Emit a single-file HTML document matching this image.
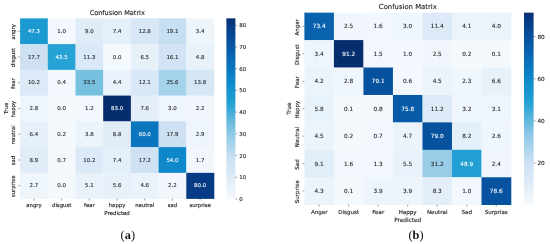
<!DOCTYPE html>
<html><head><meta charset="utf-8"><title>Confusion Matrix</title>
<style>
html,body{margin:0;padding:0;background:#fff;}
svg{display:block}
svg text{font-family:"DejaVu Sans","Liberation Sans",sans-serif;}
svg text.lb{stroke:#262626;stroke-width:0.14px;}
svg text.an{stroke-width:0.1px;}
svg text.lb2{stroke:#262626;stroke-width:3px;}
svg text.cap{font-family:"Liberation Serif","DejaVu Serif",serif;font-weight:bold;}
</style></head><body>
<svg width="550" height="244" viewBox="0 0 550 244" text-rendering="geometricPrecision">
<rect width="550" height="244" fill="#ffffff"/>
<rect x="20.10" y="18.35" width="28.00" height="26.05" fill="#1a9ad1"/>
<rect x="47.80" y="18.35" width="28.00" height="26.05" fill="#f2f8fd"/>
<rect x="75.50" y="18.35" width="28.00" height="26.05" fill="#dfecf8"/>
<rect x="103.20" y="18.35" width="28.00" height="26.05" fill="#e3eff9"/>
<rect x="130.90" y="18.35" width="28.00" height="26.05" fill="#d7e7f6"/>
<rect x="158.60" y="18.35" width="28.00" height="26.05" fill="#c7dff2"/>
<rect x="186.30" y="18.35" width="28.00" height="26.05" fill="#edf5fb"/>
<rect x="20.10" y="44.10" width="28.00" height="26.05" fill="#cde1f3"/>
<rect x="47.80" y="44.10" width="28.00" height="26.05" fill="#26a2d4"/>
<rect x="75.50" y="44.10" width="28.00" height="26.05" fill="#dae9f7"/>
<rect x="103.20" y="44.10" width="28.00" height="26.05" fill="#f4f9fe"/>
<rect x="130.90" y="44.10" width="28.00" height="26.05" fill="#e5f0f9"/>
<rect x="158.60" y="44.10" width="28.00" height="26.05" fill="#d1e3f4"/>
<rect x="186.30" y="44.10" width="28.00" height="26.05" fill="#e9f2fb"/>
<rect x="20.10" y="69.85" width="28.00" height="26.05" fill="#dceaf7"/>
<rect x="47.80" y="69.85" width="28.00" height="26.05" fill="#f3f9fe"/>
<rect x="75.50" y="69.85" width="28.00" height="26.05" fill="#76c0e0"/>
<rect x="103.20" y="69.85" width="28.00" height="26.05" fill="#eaf3fb"/>
<rect x="130.90" y="69.85" width="28.00" height="26.05" fill="#d9e8f6"/>
<rect x="158.60" y="69.85" width="28.00" height="26.05" fill="#a6d3ec"/>
<rect x="186.30" y="69.85" width="28.00" height="26.05" fill="#d5e6f5"/>
<rect x="20.10" y="95.60" width="28.00" height="26.05" fill="#eef6fc"/>
<rect x="47.80" y="95.60" width="28.00" height="26.05" fill="#f4f9fe"/>
<rect x="75.50" y="95.60" width="28.00" height="26.05" fill="#f2f8fd"/>
<rect x="103.20" y="95.60" width="28.00" height="26.05" fill="#062d6e"/>
<rect x="130.90" y="95.60" width="28.00" height="26.05" fill="#e3eef9"/>
<rect x="158.60" y="95.60" width="28.00" height="26.05" fill="#eef5fc"/>
<rect x="186.30" y="95.60" width="28.00" height="26.05" fill="#f0f6fc"/>
<rect x="20.10" y="121.35" width="28.00" height="26.05" fill="#e6f0fa"/>
<rect x="47.80" y="121.35" width="28.00" height="26.05" fill="#f4f9fe"/>
<rect x="75.50" y="121.35" width="28.00" height="26.05" fill="#ecf4fb"/>
<rect x="103.20" y="121.35" width="28.00" height="26.05" fill="#e0ecf8"/>
<rect x="130.90" y="121.35" width="28.00" height="26.05" fill="#0a76be"/>
<rect x="158.60" y="121.35" width="28.00" height="26.05" fill="#cde1f3"/>
<rect x="186.30" y="121.35" width="28.00" height="26.05" fill="#eef5fc"/>
<rect x="20.10" y="147.10" width="28.00" height="26.05" fill="#e0ecf8"/>
<rect x="47.80" y="147.10" width="28.00" height="26.05" fill="#f3f8fd"/>
<rect x="75.50" y="147.10" width="28.00" height="26.05" fill="#dceaf7"/>
<rect x="103.20" y="147.10" width="28.00" height="26.05" fill="#e3eff9"/>
<rect x="130.90" y="147.10" width="28.00" height="26.05" fill="#cee2f3"/>
<rect x="158.60" y="147.10" width="28.00" height="26.05" fill="#0e88ca"/>
<rect x="186.30" y="147.10" width="28.00" height="26.05" fill="#f1f7fd"/>
<rect x="20.10" y="172.85" width="28.00" height="26.05" fill="#eef6fc"/>
<rect x="47.80" y="172.85" width="28.00" height="26.05" fill="#f4f9fe"/>
<rect x="75.50" y="172.85" width="28.00" height="26.05" fill="#e9f2fa"/>
<rect x="103.20" y="172.85" width="28.00" height="26.05" fill="#e8f1fa"/>
<rect x="130.90" y="172.85" width="28.00" height="26.05" fill="#eaf3fb"/>
<rect x="158.60" y="172.85" width="28.00" height="26.05" fill="#f0f6fc"/>
<rect x="186.30" y="172.85" width="28.00" height="26.05" fill="#063a84"/>
<text x="33.95" y="32.79" font-size="5.45" text-anchor="middle" class="an" fill="#ffffff" stroke="#ffffff">47.3</text>
<text x="61.65" y="32.79" font-size="5.45" text-anchor="middle" class="an" fill="#262626" stroke="#262626">1.0</text>
<text x="89.35" y="32.79" font-size="5.45" text-anchor="middle" class="an" fill="#262626" stroke="#262626">9.0</text>
<text x="117.05" y="32.79" font-size="5.45" text-anchor="middle" class="an" fill="#262626" stroke="#262626">7.4</text>
<text x="144.75" y="32.79" font-size="5.45" text-anchor="middle" class="an" fill="#262626" stroke="#262626">12.8</text>
<text x="172.45" y="32.79" font-size="5.45" text-anchor="middle" class="an" fill="#262626" stroke="#262626">19.1</text>
<text x="200.15" y="32.79" font-size="5.45" text-anchor="middle" class="an" fill="#262626" stroke="#262626">3.4</text>
<text x="33.95" y="58.54" font-size="5.45" text-anchor="middle" class="an" fill="#262626" stroke="#262626">17.7</text>
<text x="61.65" y="58.54" font-size="5.45" text-anchor="middle" class="an" fill="#ffffff" stroke="#ffffff">43.5</text>
<text x="89.35" y="58.54" font-size="5.45" text-anchor="middle" class="an" fill="#262626" stroke="#262626">11.3</text>
<text x="117.05" y="58.54" font-size="5.45" text-anchor="middle" class="an" fill="#262626" stroke="#262626">0.0</text>
<text x="144.75" y="58.54" font-size="5.45" text-anchor="middle" class="an" fill="#262626" stroke="#262626">6.5</text>
<text x="172.45" y="58.54" font-size="5.45" text-anchor="middle" class="an" fill="#262626" stroke="#262626">16.1</text>
<text x="200.15" y="58.54" font-size="5.45" text-anchor="middle" class="an" fill="#262626" stroke="#262626">4.8</text>
<text x="33.95" y="84.29" font-size="5.45" text-anchor="middle" class="an" fill="#262626" stroke="#262626">10.2</text>
<text x="61.65" y="84.29" font-size="5.45" text-anchor="middle" class="an" fill="#262626" stroke="#262626">0.4</text>
<text x="89.35" y="84.29" font-size="5.45" text-anchor="middle" class="an" fill="#262626" stroke="#262626">33.5</text>
<text x="117.05" y="84.29" font-size="5.45" text-anchor="middle" class="an" fill="#262626" stroke="#262626">4.4</text>
<text x="144.75" y="84.29" font-size="5.45" text-anchor="middle" class="an" fill="#262626" stroke="#262626">12.1</text>
<text x="172.45" y="84.29" font-size="5.45" text-anchor="middle" class="an" fill="#262626" stroke="#262626">25.6</text>
<text x="200.15" y="84.29" font-size="5.45" text-anchor="middle" class="an" fill="#262626" stroke="#262626">13.8</text>
<text x="33.95" y="110.04" font-size="5.45" text-anchor="middle" class="an" fill="#262626" stroke="#262626">2.8</text>
<text x="61.65" y="110.04" font-size="5.45" text-anchor="middle" class="an" fill="#262626" stroke="#262626">0.0</text>
<text x="89.35" y="110.04" font-size="5.45" text-anchor="middle" class="an" fill="#262626" stroke="#262626">1.2</text>
<text x="117.05" y="110.04" font-size="5.45" text-anchor="middle" class="an" fill="#ffffff" stroke="#ffffff">83.0</text>
<text x="144.75" y="110.04" font-size="5.45" text-anchor="middle" class="an" fill="#262626" stroke="#262626">7.6</text>
<text x="172.45" y="110.04" font-size="5.45" text-anchor="middle" class="an" fill="#262626" stroke="#262626">3.0</text>
<text x="200.15" y="110.04" font-size="5.45" text-anchor="middle" class="an" fill="#262626" stroke="#262626">2.2</text>
<text x="33.95" y="135.79" font-size="5.45" text-anchor="middle" class="an" fill="#262626" stroke="#262626">6.4</text>
<text x="61.65" y="135.79" font-size="5.45" text-anchor="middle" class="an" fill="#262626" stroke="#262626">0.2</text>
<text x="89.35" y="135.79" font-size="5.45" text-anchor="middle" class="an" fill="#262626" stroke="#262626">3.8</text>
<text x="117.05" y="135.79" font-size="5.45" text-anchor="middle" class="an" fill="#262626" stroke="#262626">8.8</text>
<text x="144.75" y="135.79" font-size="5.45" text-anchor="middle" class="an" fill="#ffffff" stroke="#ffffff">60.0</text>
<text x="172.45" y="135.79" font-size="5.45" text-anchor="middle" class="an" fill="#262626" stroke="#262626">17.9</text>
<text x="200.15" y="135.79" font-size="5.45" text-anchor="middle" class="an" fill="#262626" stroke="#262626">2.9</text>
<text x="33.95" y="161.54" font-size="5.45" text-anchor="middle" class="an" fill="#262626" stroke="#262626">8.9</text>
<text x="61.65" y="161.54" font-size="5.45" text-anchor="middle" class="an" fill="#262626" stroke="#262626">0.7</text>
<text x="89.35" y="161.54" font-size="5.45" text-anchor="middle" class="an" fill="#262626" stroke="#262626">10.2</text>
<text x="117.05" y="161.54" font-size="5.45" text-anchor="middle" class="an" fill="#262626" stroke="#262626">7.4</text>
<text x="144.75" y="161.54" font-size="5.45" text-anchor="middle" class="an" fill="#262626" stroke="#262626">17.2</text>
<text x="172.45" y="161.54" font-size="5.45" text-anchor="middle" class="an" fill="#ffffff" stroke="#ffffff">54.0</text>
<text x="200.15" y="161.54" font-size="5.45" text-anchor="middle" class="an" fill="#262626" stroke="#262626">1.7</text>
<text x="33.95" y="187.29" font-size="5.45" text-anchor="middle" class="an" fill="#262626" stroke="#262626">2.7</text>
<text x="61.65" y="187.29" font-size="5.45" text-anchor="middle" class="an" fill="#262626" stroke="#262626">0.0</text>
<text x="89.35" y="187.29" font-size="5.45" text-anchor="middle" class="an" fill="#262626" stroke="#262626">5.1</text>
<text x="117.05" y="187.29" font-size="5.45" text-anchor="middle" class="an" fill="#262626" stroke="#262626">5.6</text>
<text x="144.75" y="187.29" font-size="5.45" text-anchor="middle" class="an" fill="#262626" stroke="#262626">4.6</text>
<text x="172.45" y="187.29" font-size="5.45" text-anchor="middle" class="an" fill="#262626" stroke="#262626">2.2</text>
<text x="200.15" y="187.29" font-size="5.45" text-anchor="middle" class="an" fill="#ffffff" stroke="#ffffff">80.0</text>
<defs><linearGradient id="ga" x1="0" y1="0" x2="0" y2="1"><stop offset="0.00%" stop-color="#062d6e"/><stop offset="3.12%" stop-color="#063881"/><stop offset="6.25%" stop-color="#06418b"/><stop offset="9.38%" stop-color="#074894"/><stop offset="12.50%" stop-color="#07509d"/><stop offset="15.62%" stop-color="#0758a5"/><stop offset="18.75%" stop-color="#0860ac"/><stop offset="21.88%" stop-color="#0968b3"/><stop offset="25.00%" stop-color="#096fb9"/><stop offset="28.12%" stop-color="#0a77bf"/><stop offset="31.25%" stop-color="#0c7fc4"/><stop offset="34.38%" stop-color="#0e87c9"/><stop offset="37.50%" stop-color="#128ecc"/><stop offset="40.62%" stop-color="#1695cf"/><stop offset="43.75%" stop-color="#1c9bd1"/><stop offset="46.88%" stop-color="#24a1d4"/><stop offset="50.00%" stop-color="#36a8d6"/><stop offset="53.12%" stop-color="#4bb0da"/><stop offset="56.25%" stop-color="#60b8dd"/><stop offset="59.38%" stop-color="#75bfe0"/><stop offset="62.50%" stop-color="#86c6e4"/><stop offset="65.62%" stop-color="#97cce8"/><stop offset="68.75%" stop-color="#a4d2eb"/><stop offset="71.88%" stop-color="#b1d7ee"/><stop offset="75.00%" stop-color="#bfdcf0"/><stop offset="78.12%" stop-color="#cce1f3"/><stop offset="81.25%" stop-color="#d2e4f4"/><stop offset="84.38%" stop-color="#d7e7f6"/><stop offset="87.50%" stop-color="#dceaf7"/><stop offset="90.62%" stop-color="#e2eef9"/><stop offset="93.75%" stop-color="#e8f2fa"/><stop offset="96.88%" stop-color="#eff6fc"/><stop offset="100.00%" stop-color="#f4f9fe"/></linearGradient></defs>
<rect x="226.4" y="18.35" width="9.00" height="180.25" fill="url(#ga)"/>
<line x1="235.4" x2="237.3" y1="199.00" y2="199.00" stroke="#262626" stroke-width="0.45"/>
<text x="239.20" y="200.96" font-size="5.45" class="lb" fill="#262626">0</text>
<line x1="235.4" x2="237.3" y1="177.28" y2="177.28" stroke="#262626" stroke-width="0.45"/>
<text x="239.20" y="179.25" font-size="5.45" class="lb" fill="#262626">10</text>
<line x1="235.4" x2="237.3" y1="155.57" y2="155.57" stroke="#262626" stroke-width="0.45"/>
<text x="239.20" y="157.53" font-size="5.45" class="lb" fill="#262626">20</text>
<line x1="235.4" x2="237.3" y1="133.85" y2="133.85" stroke="#262626" stroke-width="0.45"/>
<text x="239.20" y="135.81" font-size="5.45" class="lb" fill="#262626">30</text>
<line x1="235.4" x2="237.3" y1="112.13" y2="112.13" stroke="#262626" stroke-width="0.45"/>
<text x="239.20" y="114.09" font-size="5.45" class="lb" fill="#262626">40</text>
<line x1="235.4" x2="237.3" y1="90.42" y2="90.42" stroke="#262626" stroke-width="0.45"/>
<text x="239.20" y="92.38" font-size="5.45" class="lb" fill="#262626">50</text>
<line x1="235.4" x2="237.3" y1="68.70" y2="68.70" stroke="#262626" stroke-width="0.45"/>
<text x="239.20" y="70.66" font-size="5.45" class="lb" fill="#262626">60</text>
<line x1="235.4" x2="237.3" y1="46.98" y2="46.98" stroke="#262626" stroke-width="0.45"/>
<text x="239.20" y="48.94" font-size="5.45" class="lb" fill="#262626">70</text>
<line x1="235.4" x2="237.3" y1="25.27" y2="25.27" stroke="#262626" stroke-width="0.45"/>
<text x="239.20" y="27.23" font-size="5.45" class="lb" fill="#262626">80</text>
<line x1="33.95" x2="33.95" y1="198.6" y2="200.5" stroke="#262626" stroke-width="0.45"/>
<text x="33.95" y="207.34" font-size="5.35" text-anchor="middle" class="lb" fill="#262626">angry</text>
<line x1="61.65" x2="61.65" y1="198.6" y2="200.5" stroke="#262626" stroke-width="0.45"/>
<text x="61.65" y="207.34" font-size="5.35" text-anchor="middle" class="lb" fill="#262626">disgust</text>
<line x1="89.35" x2="89.35" y1="198.6" y2="200.5" stroke="#262626" stroke-width="0.45"/>
<text x="89.35" y="207.34" font-size="5.35" text-anchor="middle" class="lb" fill="#262626">fear</text>
<line x1="117.05" x2="117.05" y1="198.6" y2="200.5" stroke="#262626" stroke-width="0.45"/>
<text x="117.05" y="207.34" font-size="5.35" text-anchor="middle" class="lb" fill="#262626">happy</text>
<line x1="144.75" x2="144.75" y1="198.6" y2="200.5" stroke="#262626" stroke-width="0.45"/>
<text x="144.75" y="207.34" font-size="5.35" text-anchor="middle" class="lb" fill="#262626">neutral</text>
<line x1="172.45" x2="172.45" y1="198.6" y2="200.5" stroke="#262626" stroke-width="0.45"/>
<text x="172.45" y="207.34" font-size="5.35" text-anchor="middle" class="lb" fill="#262626">sad</text>
<line x1="200.15" x2="200.15" y1="198.6" y2="200.5" stroke="#262626" stroke-width="0.45"/>
<text x="200.15" y="207.34" font-size="5.35" text-anchor="middle" class="lb" fill="#262626">surprise</text>
<line x1="18.200000000000003" x2="20.1" y1="31.23" y2="31.23" stroke="#262626" stroke-width="0.45"/>
<text transform="translate(14.90,31.83) rotate(-90) scale(0.05)" font-size="107.0" text-anchor="middle" class="lb2" fill="#262626">angry</text>
<line x1="18.200000000000003" x2="20.1" y1="56.98" y2="56.98" stroke="#262626" stroke-width="0.45"/>
<text transform="translate(14.90,57.58) rotate(-90) scale(0.05)" font-size="107.0" text-anchor="middle" class="lb2" fill="#262626">disgust</text>
<line x1="18.200000000000003" x2="20.1" y1="82.72" y2="82.72" stroke="#262626" stroke-width="0.45"/>
<text transform="translate(14.90,83.32) rotate(-90) scale(0.05)" font-size="107.0" text-anchor="middle" class="lb2" fill="#262626">fear</text>
<line x1="18.200000000000003" x2="20.1" y1="108.47" y2="108.47" stroke="#262626" stroke-width="0.45"/>
<text transform="translate(14.90,109.07) rotate(-90) scale(0.05)" font-size="107.0" text-anchor="middle" class="lb2" fill="#262626">happy</text>
<line x1="18.200000000000003" x2="20.1" y1="134.22" y2="134.22" stroke="#262626" stroke-width="0.45"/>
<text transform="translate(14.90,134.82) rotate(-90) scale(0.05)" font-size="107.0" text-anchor="middle" class="lb2" fill="#262626">neutral</text>
<line x1="18.200000000000003" x2="20.1" y1="159.97" y2="159.97" stroke="#262626" stroke-width="0.45"/>
<text transform="translate(14.90,160.57) rotate(-90) scale(0.05)" font-size="107.0" text-anchor="middle" class="lb2" fill="#262626">sad</text>
<line x1="18.200000000000003" x2="20.1" y1="185.72" y2="185.72" stroke="#262626" stroke-width="0.45"/>
<text transform="translate(14.90,186.32) rotate(-90) scale(0.05)" font-size="107.0" text-anchor="middle" class="lb2" fill="#262626">surprise</text>
<text x="117.05"  y="214.93" font-size="5.45" text-anchor="middle" class="lb" fill="#262626">Predicted</text>
<text transform="translate(7.70,108.47) rotate(-90) scale(0.05)" font-size="109.0" text-anchor="middle" class="lb2" fill="#262626">True</text>
<text x="117.2" y="15.0" font-size="6.54" text-anchor="middle" class="lb" fill="#262626">Confusion Matrix</text>
<text class="cap" x="127.8" y="238.7" font-size="12.3" text-anchor="middle" fill="#111"><tspan font-weight="normal">(</tspan>a<tspan font-weight="normal">)</tspan></text>
<rect x="304.40" y="12.65" width="29.81" height="27.74" fill="#0862ae"/>
<rect x="333.91" y="12.65" width="29.81" height="27.74" fill="#f0f6fc"/>
<rect x="363.43" y="12.65" width="29.81" height="27.74" fill="#f1f7fd"/>
<rect x="392.94" y="12.65" width="29.81" height="27.74" fill="#eff6fc"/>
<rect x="422.46" y="12.65" width="29.81" height="27.74" fill="#dceaf7"/>
<rect x="451.97" y="12.65" width="29.81" height="27.74" fill="#ecf4fb"/>
<rect x="481.49" y="12.65" width="29.81" height="27.74" fill="#ecf4fb"/>
<rect x="304.40" y="40.09" width="29.81" height="27.74" fill="#eef5fc"/>
<rect x="333.91" y="40.09" width="29.81" height="27.74" fill="#062d6e"/>
<rect x="363.43" y="40.09" width="29.81" height="27.74" fill="#f1f7fd"/>
<rect x="392.94" y="40.09" width="29.81" height="27.74" fill="#f2f8fd"/>
<rect x="422.46" y="40.09" width="29.81" height="27.74" fill="#f0f6fc"/>
<rect x="451.97" y="40.09" width="29.81" height="27.74" fill="#f4f9fe"/>
<rect x="481.49" y="40.09" width="29.81" height="27.74" fill="#f4f9fe"/>
<rect x="304.40" y="67.52" width="29.81" height="27.74" fill="#ecf4fb"/>
<rect x="333.91" y="67.52" width="29.81" height="27.74" fill="#eff6fc"/>
<rect x="363.43" y="67.52" width="29.81" height="27.74" fill="#07529f"/>
<rect x="392.94" y="67.52" width="29.81" height="27.74" fill="#f3f8fe"/>
<rect x="422.46" y="67.52" width="29.81" height="27.74" fill="#ebf4fb"/>
<rect x="451.97" y="67.52" width="29.81" height="27.74" fill="#f0f7fc"/>
<rect x="481.49" y="67.52" width="29.81" height="27.74" fill="#e7f1fa"/>
<rect x="304.40" y="94.96" width="29.81" height="27.74" fill="#e8f2fa"/>
<rect x="333.91" y="94.96" width="29.81" height="27.74" fill="#f4f9fe"/>
<rect x="363.43" y="94.96" width="29.81" height="27.74" fill="#f3f8fd"/>
<rect x="392.94" y="94.96" width="29.81" height="27.74" fill="#085ba8"/>
<rect x="422.46" y="94.96" width="29.81" height="27.74" fill="#ddeaf7"/>
<rect x="451.97" y="94.96" width="29.81" height="27.74" fill="#eef5fc"/>
<rect x="481.49" y="94.96" width="29.81" height="27.74" fill="#eef6fc"/>
<rect x="304.40" y="122.39" width="29.81" height="27.74" fill="#ebf4fb"/>
<rect x="333.91" y="122.39" width="29.81" height="27.74" fill="#f4f9fe"/>
<rect x="363.43" y="122.39" width="29.81" height="27.74" fill="#f3f8fe"/>
<rect x="392.94" y="122.39" width="29.81" height="27.74" fill="#ebf3fb"/>
<rect x="422.46" y="122.39" width="29.81" height="27.74" fill="#07529f"/>
<rect x="451.97" y="122.39" width="29.81" height="27.74" fill="#e3eff9"/>
<rect x="481.49" y="122.39" width="29.81" height="27.74" fill="#eff6fc"/>
<rect x="304.40" y="149.83" width="29.81" height="27.74" fill="#e1edf8"/>
<rect x="333.91" y="149.83" width="29.81" height="27.74" fill="#f1f7fd"/>
<rect x="363.43" y="149.83" width="29.81" height="27.74" fill="#f2f8fd"/>
<rect x="392.94" y="149.83" width="29.81" height="27.74" fill="#e9f2fa"/>
<rect x="422.46" y="149.83" width="29.81" height="27.74" fill="#98cde8"/>
<rect x="451.97" y="149.83" width="29.81" height="27.74" fill="#23a0d3"/>
<rect x="481.49" y="149.83" width="29.81" height="27.74" fill="#f0f6fc"/>
<rect x="304.40" y="177.26" width="29.81" height="27.74" fill="#ecf4fb"/>
<rect x="333.91" y="177.26" width="29.81" height="27.74" fill="#f4f9fe"/>
<rect x="363.43" y="177.26" width="29.81" height="27.74" fill="#edf5fb"/>
<rect x="392.94" y="177.26" width="29.81" height="27.74" fill="#edf5fb"/>
<rect x="422.46" y="177.26" width="29.81" height="27.74" fill="#e3eef9"/>
<rect x="451.97" y="177.26" width="29.81" height="27.74" fill="#f2f8fd"/>
<rect x="481.49" y="177.26" width="29.81" height="27.74" fill="#0753a0"/>
<text x="319.16" y="28.44" font-size="5.75" text-anchor="middle" class="an" fill="#ffffff" stroke="#ffffff">73.4</text>
<text x="348.67" y="28.44" font-size="5.75" text-anchor="middle" class="an" fill="#262626" stroke="#262626">2.5</text>
<text x="378.19" y="28.44" font-size="5.75" text-anchor="middle" class="an" fill="#262626" stroke="#262626">1.6</text>
<text x="407.70" y="28.44" font-size="5.75" text-anchor="middle" class="an" fill="#262626" stroke="#262626">3.0</text>
<text x="437.21" y="28.44" font-size="5.75" text-anchor="middle" class="an" fill="#262626" stroke="#262626">11.4</text>
<text x="466.73" y="28.44" font-size="5.75" text-anchor="middle" class="an" fill="#262626" stroke="#262626">4.1</text>
<text x="496.24" y="28.44" font-size="5.75" text-anchor="middle" class="an" fill="#262626" stroke="#262626">4.0</text>
<text x="319.16" y="55.87" font-size="5.75" text-anchor="middle" class="an" fill="#262626" stroke="#262626">3.4</text>
<text x="348.67" y="55.87" font-size="5.75" text-anchor="middle" class="an" fill="#ffffff" stroke="#ffffff">91.2</text>
<text x="378.19" y="55.87" font-size="5.75" text-anchor="middle" class="an" fill="#262626" stroke="#262626">1.5</text>
<text x="407.70" y="55.87" font-size="5.75" text-anchor="middle" class="an" fill="#262626" stroke="#262626">1.0</text>
<text x="437.21" y="55.87" font-size="5.75" text-anchor="middle" class="an" fill="#262626" stroke="#262626">2.5</text>
<text x="466.73" y="55.87" font-size="5.75" text-anchor="middle" class="an" fill="#262626" stroke="#262626">0.2</text>
<text x="496.24" y="55.87" font-size="5.75" text-anchor="middle" class="an" fill="#262626" stroke="#262626">0.1</text>
<text x="319.16" y="83.31" font-size="5.75" text-anchor="middle" class="an" fill="#262626" stroke="#262626">4.2</text>
<text x="348.67" y="83.31" font-size="5.75" text-anchor="middle" class="an" fill="#262626" stroke="#262626">2.8</text>
<text x="378.19" y="83.31" font-size="5.75" text-anchor="middle" class="an" fill="#ffffff" stroke="#ffffff">79.1</text>
<text x="407.70" y="83.31" font-size="5.75" text-anchor="middle" class="an" fill="#262626" stroke="#262626">0.6</text>
<text x="437.21" y="83.31" font-size="5.75" text-anchor="middle" class="an" fill="#262626" stroke="#262626">4.5</text>
<text x="466.73" y="83.31" font-size="5.75" text-anchor="middle" class="an" fill="#262626" stroke="#262626">2.3</text>
<text x="496.24" y="83.31" font-size="5.75" text-anchor="middle" class="an" fill="#262626" stroke="#262626">6.6</text>
<text x="319.16" y="110.74" font-size="5.75" text-anchor="middle" class="an" fill="#262626" stroke="#262626">5.8</text>
<text x="348.67" y="110.74" font-size="5.75" text-anchor="middle" class="an" fill="#262626" stroke="#262626">0.1</text>
<text x="378.19" y="110.74" font-size="5.75" text-anchor="middle" class="an" fill="#262626" stroke="#262626">0.8</text>
<text x="407.70" y="110.74" font-size="5.75" text-anchor="middle" class="an" fill="#ffffff" stroke="#ffffff">75.8</text>
<text x="437.21" y="110.74" font-size="5.75" text-anchor="middle" class="an" fill="#262626" stroke="#262626">11.2</text>
<text x="466.73" y="110.74" font-size="5.75" text-anchor="middle" class="an" fill="#262626" stroke="#262626">3.2</text>
<text x="496.24" y="110.74" font-size="5.75" text-anchor="middle" class="an" fill="#262626" stroke="#262626">3.1</text>
<text x="319.16" y="138.18" font-size="5.75" text-anchor="middle" class="an" fill="#262626" stroke="#262626">4.5</text>
<text x="348.67" y="138.18" font-size="5.75" text-anchor="middle" class="an" fill="#262626" stroke="#262626">0.2</text>
<text x="378.19" y="138.18" font-size="5.75" text-anchor="middle" class="an" fill="#262626" stroke="#262626">0.7</text>
<text x="407.70" y="138.18" font-size="5.75" text-anchor="middle" class="an" fill="#262626" stroke="#262626">4.7</text>
<text x="437.21" y="138.18" font-size="5.75" text-anchor="middle" class="an" fill="#ffffff" stroke="#ffffff">79.0</text>
<text x="466.73" y="138.18" font-size="5.75" text-anchor="middle" class="an" fill="#262626" stroke="#262626">8.2</text>
<text x="496.24" y="138.18" font-size="5.75" text-anchor="middle" class="an" fill="#262626" stroke="#262626">2.6</text>
<text x="319.16" y="165.62" font-size="5.75" text-anchor="middle" class="an" fill="#262626" stroke="#262626">9.1</text>
<text x="348.67" y="165.62" font-size="5.75" text-anchor="middle" class="an" fill="#262626" stroke="#262626">1.6</text>
<text x="378.19" y="165.62" font-size="5.75" text-anchor="middle" class="an" fill="#262626" stroke="#262626">1.3</text>
<text x="407.70" y="165.62" font-size="5.75" text-anchor="middle" class="an" fill="#262626" stroke="#262626">5.5</text>
<text x="437.21" y="165.62" font-size="5.75" text-anchor="middle" class="an" fill="#262626" stroke="#262626">31.2</text>
<text x="466.73" y="165.62" font-size="5.75" text-anchor="middle" class="an" fill="#ffffff" stroke="#ffffff">48.9</text>
<text x="496.24" y="165.62" font-size="5.75" text-anchor="middle" class="an" fill="#262626" stroke="#262626">2.4</text>
<text x="319.16" y="193.05" font-size="5.75" text-anchor="middle" class="an" fill="#262626" stroke="#262626">4.3</text>
<text x="348.67" y="193.05" font-size="5.75" text-anchor="middle" class="an" fill="#262626" stroke="#262626">0.1</text>
<text x="378.19" y="193.05" font-size="5.75" text-anchor="middle" class="an" fill="#262626" stroke="#262626">3.9</text>
<text x="407.70" y="193.05" font-size="5.75" text-anchor="middle" class="an" fill="#262626" stroke="#262626">3.9</text>
<text x="437.21" y="193.05" font-size="5.75" text-anchor="middle" class="an" fill="#262626" stroke="#262626">8.3</text>
<text x="466.73" y="193.05" font-size="5.75" text-anchor="middle" class="an" fill="#262626" stroke="#262626">1.0</text>
<text x="496.24" y="193.05" font-size="5.75" text-anchor="middle" class="an" fill="#ffffff" stroke="#ffffff">78.6</text>
<defs><linearGradient id="gb" x1="0" y1="0" x2="0" y2="1"><stop offset="0.00%" stop-color="#062d6e"/><stop offset="3.12%" stop-color="#063881"/><stop offset="6.25%" stop-color="#06418b"/><stop offset="9.38%" stop-color="#074894"/><stop offset="12.50%" stop-color="#07509d"/><stop offset="15.62%" stop-color="#0758a5"/><stop offset="18.75%" stop-color="#0860ac"/><stop offset="21.88%" stop-color="#0968b3"/><stop offset="25.00%" stop-color="#096fb9"/><stop offset="28.12%" stop-color="#0a77bf"/><stop offset="31.25%" stop-color="#0c7fc4"/><stop offset="34.38%" stop-color="#0e87c9"/><stop offset="37.50%" stop-color="#128ecc"/><stop offset="40.62%" stop-color="#1695cf"/><stop offset="43.75%" stop-color="#1c9bd1"/><stop offset="46.88%" stop-color="#24a1d4"/><stop offset="50.00%" stop-color="#36a8d6"/><stop offset="53.12%" stop-color="#4bb0da"/><stop offset="56.25%" stop-color="#60b8dd"/><stop offset="59.38%" stop-color="#75bfe0"/><stop offset="62.50%" stop-color="#86c6e4"/><stop offset="65.62%" stop-color="#97cce8"/><stop offset="68.75%" stop-color="#a4d2eb"/><stop offset="71.88%" stop-color="#b1d7ee"/><stop offset="75.00%" stop-color="#bfdcf0"/><stop offset="78.12%" stop-color="#cce1f3"/><stop offset="81.25%" stop-color="#d2e4f4"/><stop offset="84.38%" stop-color="#d7e7f6"/><stop offset="87.50%" stop-color="#dceaf7"/><stop offset="90.62%" stop-color="#e2eef9"/><stop offset="93.75%" stop-color="#e8f2fa"/><stop offset="96.88%" stop-color="#eff6fc"/><stop offset="100.00%" stop-color="#f4f9fe"/></linearGradient></defs>
<rect x="524.0" y="12.65" width="9.60" height="192.05" fill="url(#gb)"/>
<line x1="533.6" x2="535.5" y1="163.15" y2="163.15" stroke="#262626" stroke-width="0.45"/>
<text x="537.40" y="165.22" font-size="5.75" class="lb" fill="#262626">20</text>
<line x1="533.6" x2="535.5" y1="120.99" y2="120.99" stroke="#262626" stroke-width="0.45"/>
<text x="537.40" y="123.06" font-size="5.75" class="lb" fill="#262626">40</text>
<line x1="533.6" x2="535.5" y1="78.82" y2="78.82" stroke="#262626" stroke-width="0.45"/>
<text x="537.40" y="80.89" font-size="5.75" class="lb" fill="#262626">60</text>
<line x1="533.6" x2="535.5" y1="36.66" y2="36.66" stroke="#262626" stroke-width="0.45"/>
<text x="537.40" y="38.73" font-size="5.75" class="lb" fill="#262626">80</text>
<line x1="319.16" x2="319.16" y1="204.7" y2="206.6" stroke="#262626" stroke-width="0.45"/>
<text x="319.16" y="213.92" font-size="5.55" text-anchor="middle" class="lb" fill="#262626">Anger</text>
<line x1="348.67" x2="348.67" y1="204.7" y2="206.6" stroke="#262626" stroke-width="0.45"/>
<text x="348.67" y="213.92" font-size="5.55" text-anchor="middle" class="lb" fill="#262626">Disgust</text>
<line x1="378.19" x2="378.19" y1="204.7" y2="206.6" stroke="#262626" stroke-width="0.45"/>
<text x="378.19" y="213.92" font-size="5.55" text-anchor="middle" class="lb" fill="#262626">Fear</text>
<line x1="407.70" x2="407.70" y1="204.7" y2="206.6" stroke="#262626" stroke-width="0.45"/>
<text x="407.70" y="213.92" font-size="5.55" text-anchor="middle" class="lb" fill="#262626">Happy</text>
<line x1="437.21" x2="437.21" y1="204.7" y2="206.6" stroke="#262626" stroke-width="0.45"/>
<text x="437.21" y="213.92" font-size="5.55" text-anchor="middle" class="lb" fill="#262626">Neutral</text>
<line x1="466.73" x2="466.73" y1="204.7" y2="206.6" stroke="#262626" stroke-width="0.45"/>
<text x="466.73" y="213.92" font-size="5.55" text-anchor="middle" class="lb" fill="#262626">Sad</text>
<line x1="496.24" x2="496.24" y1="204.7" y2="206.6" stroke="#262626" stroke-width="0.45"/>
<text x="496.24" y="213.92" font-size="5.55" text-anchor="middle" class="lb" fill="#262626">Surprise</text>
<line x1="302.5" x2="304.4" y1="26.37" y2="26.37" stroke="#262626" stroke-width="0.45"/>
<text transform="translate(298.90,27.27) rotate(-90) scale(0.05)" font-size="111.0" text-anchor="middle" class="lb2" fill="#262626">Anger</text>
<line x1="302.5" x2="304.4" y1="53.80" y2="53.80" stroke="#262626" stroke-width="0.45"/>
<text transform="translate(298.90,54.70) rotate(-90) scale(0.05)" font-size="111.0" text-anchor="middle" class="lb2" fill="#262626">Disgust</text>
<line x1="302.5" x2="304.4" y1="81.24" y2="81.24" stroke="#262626" stroke-width="0.45"/>
<text transform="translate(298.90,82.14) rotate(-90) scale(0.05)" font-size="111.0" text-anchor="middle" class="lb2" fill="#262626">Fear</text>
<line x1="302.5" x2="304.4" y1="108.67" y2="108.67" stroke="#262626" stroke-width="0.45"/>
<text transform="translate(298.90,109.58) rotate(-90) scale(0.05)" font-size="111.0" text-anchor="middle" class="lb2" fill="#262626">Happy</text>
<line x1="302.5" x2="304.4" y1="136.11" y2="136.11" stroke="#262626" stroke-width="0.45"/>
<text transform="translate(298.90,137.01) rotate(-90) scale(0.05)" font-size="111.0" text-anchor="middle" class="lb2" fill="#262626">Neutral</text>
<line x1="302.5" x2="304.4" y1="163.55" y2="163.55" stroke="#262626" stroke-width="0.45"/>
<text transform="translate(298.90,164.45) rotate(-90) scale(0.05)" font-size="111.0" text-anchor="middle" class="lb2" fill="#262626">Sad</text>
<line x1="302.5" x2="304.4" y1="190.98" y2="190.98" stroke="#262626" stroke-width="0.45"/>
<text transform="translate(298.90,191.88) rotate(-90) scale(0.05)" font-size="111.0" text-anchor="middle" class="lb2" fill="#262626">Surprise</text>
<text x="407.70"  y="221.74" font-size="5.75" text-anchor="middle" class="lb" fill="#262626">Predicted</text>
<text transform="translate(291.20,108.67) rotate(-90) scale(0.05)" font-size="115.0" text-anchor="middle" class="lb2" fill="#262626">True</text>
<text x="407.8" y="9.1" font-size="6.87" text-anchor="middle" class="lb" fill="#262626">Confusion Matrix</text>
<text class="cap" x="416.0" y="238.7" font-size="12.3" text-anchor="middle" fill="#111"><tspan font-weight="normal">(</tspan>b<tspan font-weight="normal">)</tspan></text>
</svg>
</body></html>
